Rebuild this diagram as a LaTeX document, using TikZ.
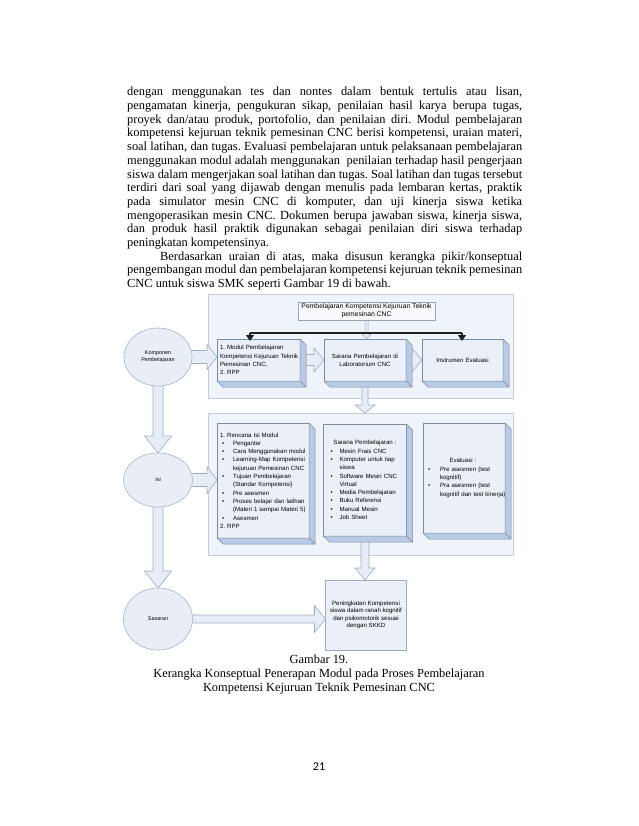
\documentclass[tikz,border=0pt]{standalone}
\usepackage{fontspec}
\setmainfont{Liberation Serif}
\newfontfamily\diagfont{Liberation Sans}
\newfontfamily\pagefont{Carlito}
\usetikzlibrary{shapes.geometric,arrows.meta,calc,backgrounds}
\frenchspacing

\definecolor{panelfill}{RGB}{239,243,250}
\definecolor{panelline}{RGB}{196,204,216}
\definecolor{boxfill}{RGB}{235,240,248}
\definecolor{boxline}{RGB}{125,140,165}
\definecolor{boxside}{RGB}{184,202,228}
\definecolor{arrowfill}{RGB}{231,237,247}
\definecolor{arrowline}{RGB}{158,172,194}
\definecolor{ovalfill}{RGB}{233,238,246}
\definecolor{ovalline}{RGB}{166,178,198}

\newcommand\boxfont{\diagfont\fontsize{6.1}{8.3}\selectfont}
\newcommand\itm[2]{\hspace*{#1}\makebox[#2][l]{\textbullet}}
\newcommand\jline[1]{\makebox[395pt][s]{#1}}
\newcommand\boxdepth[1]{%
  \filldraw[depthface] (#1.north east) -- ++(6,6) -- ([shift={(6,6)}]#1.south east) -- (#1.south east) -- cycle;
  \filldraw[depthface] (#1.south west) -- ++(6,6) -- ([shift={(6,6)}]#1.south east) -- (#1.south east) -- cycle;}

\tikzset{
  panel/.style={draw=panelline, fill=panelfill, line width=0.7pt, inner sep=0pt, outer sep=0pt, anchor=north west},
  cube/.style={draw=boxline, fill=boxfill, line width=0.5pt, inner xsep=0pt, inner ysep=1pt, outer sep=0pt, font=\boxfont, align=left},
  flatbox/.style={draw=arrowline, fill=boxfill, line width=0.5pt, inner sep=0pt, outer sep=0pt, font=\diagfont\fontsize{6.1}{7.6}\selectfont, align=center},
  depthface/.style={draw=boxline, fill=boxside, line width=0.5pt, line join=round},
  oval/.style={ellipse, draw=ovalline, fill=ovalfill, line width=0.6pt, inner sep=0pt, outer sep=0pt, font=\diagfont\fontsize{5.4}{6.9}\selectfont, align=center},
  titlebox/.style={draw=boxline!80, fill=boxfill!40, line width=0.5pt, inner sep=0pt, outer sep=0pt, font=\diagfont\fontsize{6.8}{8.4}\selectfont, align=center},
  blockarrow/.style={draw=arrowline, fill=arrowfill, line width=0.6pt, line join=miter},
  fat/.style n args={3}{to path={
    ($(\tikztotarget)!#3!(\tikztostart)$) coordinate (fb)
    ($(\tikztostart)!#1!90:(\tikztotarget)$) -- ($(fb)!#1!90:(\tikztotarget)$)
    -- ($(fb)!#2!90:(\tikztotarget)$) -- (\tikztotarget)
    -- ($(fb)!#2!-90:(\tikztotarget)$) -- ($(fb)!#1!-90:(\tikztotarget)$)
    -- ($(\tikztostart)!#1!-90:(\tikztotarget)$) -- cycle}},
  bracket/.style={line width=2.3pt, draw=black!88},
  bodytext/.style={inner sep=0pt, align=left, font=\fontsize{12.4}{13.7}\selectfont}
}

\begin{document}
\begin{tikzpicture}[x=1pt, y=-1pt]
\useasboundingbox (0,0) rectangle (638,826);

% text above the figure
\node[bodytext, anchor=north west] (para) at (127,87) {%
\jline{dengan menggunakan tes dan nontes dalam bentuk tertulis atau lisan,}\\
\jline{pengamatan kinerja, pengukuran sikap, penilaian hasil karya berupa tugas,}\\
\jline{proyek dan/atau produk, portofolio, dan penilaian diri. Modul pembelajaran}\\
\jline{kompetensi kejuruan teknik pemesinan CNC berisi kompetensi, uraian materi,}\\
\jline{soal latihan, dan tugas. Evaluasi pembelajaran untuk pelaksanaan pembelajaran}\\
\jline{menggunakan modul adalah menggunakan\ \ penilaian terhadap hasil pengerjaan}\\
\jline{siswa dalam mengerjakan soal latihan dan tugas. Soal latihan dan tugas tersebut}\\
\jline{terdiri dari soal yang dijawab dengan menulis pada lembaran kertas, praktik}\\
\jline{pada simulator mesin CNC di komputer, dan uji kinerja siswa ketika}\\
\jline{mengoperasikan mesin CNC. Dokumen berupa jawaban siswa, kinerja siswa,}\\
\jline{dan produk hasil praktik digunakan sebagai penilaian diri siswa terhadap}\\
peningkatan kompetensinya.\\
\hspace*{33pt}\makebox[362pt][s]{Berdasarkan uraian di atas, maka disusun kerangka pikir/konseptual}\\
\jline{pengembangan modul dan pembelajaran kompetensi kejuruan teknik pemesinan}\\
CNC untuk siswa SMK seperti Gambar 19 di bawah.};

% components
\node[oval, minimum width=68pt, minimum height=58pt] (e1) at (158,357) {Komponen\\Pembelajaran};
\node[oval, minimum width=69pt, minimum height=54pt] (e2) at (158,480) {Isi};
\node[oval, minimum width=69pt, minimum height=62pt] (e3) at (158,619) {Sasaran};

\node[titlebox, minimum width=137pt, minimum height=18pt] (tit) at (366.5,311) {Pembelajaran Kompetensi Kejuruan Teknik\\pemesinan CNC};

\node[cube, minimum width=83pt, minimum height=42pt, text width=83pt] (m1) at (258.5,360)
  {\hspace*{3pt}1. Modul Pembelajaran\\\hspace*{3pt}Kompetensi Kejuruan Teknik\\\hspace*{3pt}Pemesinan CNC,\\\hspace*{3pt}2. RPP};
\node[cube, minimum width=82pt, minimum height=42pt, text width=82pt, align=center] (m2) at (365,360)
  {Sarana Pembelajaran di\\Laboratorium CNC};
\node[cube, minimum width=81pt, minimum height=42pt, text width=81pt, align=center] (m3) at (462.5,360)
  {Instrumen Evaluasi};

\node[cube, minimum width=92pt, minimum height=115pt, text width=92pt] (b1) at (263,480.5) {%
  \hspace*{3pt}1. Rencana Isi Modul\\
  \itm{5pt}{11pt}Pengantar\\
  \itm{5pt}{11pt}Cara Menggunakan modul\\
  \itm{5pt}{11pt}Learning-Map Kompetensi\\
  \hspace*{16pt}kejuruan Pemesinan CNC\\
  \itm{5pt}{11pt}Tujuan Pembelajaran\\
  \hspace*{16pt}(Standar Kompetensi)\\
  \itm{5pt}{11pt}Pre asesmen\\
  \itm{5pt}{11pt}Proses belajar dan latihan\\
  \hspace*{16pt}(Materi 1 sampai Materi 5)\\
  \itm{5pt}{11pt}Asesmen\\
  \hspace*{3pt}2. RPP};
\node[cube, minimum width=83pt, minimum height=112pt, text width=83pt] (b2) at (365,480) {%
  \makebox[83pt][c]{Sarana Pembelajaran :}\\
  \itm{7pt}{9pt}Mesin Frais CNC\\
  \itm{7pt}{9pt}Komputer untuk tiap\\
  \hspace*{16pt}siswa\\
  \itm{7pt}{9pt}Software Mesin CNC\\
  \hspace*{16pt}Virtual\\
  \itm{7pt}{9pt}Media Pembelajaran\\
  \itm{7pt}{9pt}Buku Referensi\\
  \itm{7pt}{9pt}Manual Mesin\\
  \itm{7pt}{9pt}Job Sheet};
\node[cube, minimum width=82pt, minimum height=110pt, text width=82pt] (b3) at (464,478) {%
  \makebox[80pt][c]{Evaluasi :}\\
  \itm{5pt}{12pt}\mbox{Pre asesmen (test}\\
  \hspace*{17pt}kognitif)\\
  \itm{5pt}{12pt}\mbox{Pra asesmen (test}\\
  \hspace*{17pt}\mbox{kognitif dan test kinerja)}};

\node[flatbox, minimum width=81pt, minimum height=70pt] (fin) at (366,615)
  {Peningkatan Kompetensi\\siswa dalam ranah kognitif\\dan psikomotorik sesuai\\dengan SKKD};

\foreach \b in {m1,m2,m3,b1,b2,b3}{\boxdepth{\b}}

\begin{scope}[on background layer]
  \node[panel, minimum width=305pt, minimum height=104pt] (panA) at (208,294) {};
  \node[panel, minimum width=305pt, minimum height=142pt] (panB) at (208,413) {};
  \draw[blockarrow] (e1.center) to[fat={6.5pt}{12.5pt}{10pt}] (e1 -| m1.west);
  \draw[blockarrow] (m1.center) to[fat={5.5pt}{12pt}{10pt}] (m1 -| m2.west);
  \draw[blockarrow] (m2.center) to[fat={5.5pt}{12pt}{10pt}] (m2 -| m3.west);
  \draw[blockarrow] (e1.center) to[fat={5pt}{13.5pt}{17pt}] (e2.north);
  \draw[blockarrow] (e2.center) to[fat={5pt}{13.5pt}{17pt}] (e3.north);
  \draw[blockarrow] (e2.center) to[fat={6.5pt}{13.5pt}{10pt}] (e2 -| b1.west);
  \draw[blockarrow] (e3.center) to[fat={4pt}{13.5pt}{11pt}] (e3 -| fin.west);
  \draw[blockarrow] (m2.center) to[fat={3pt}{10pt}{8pt}] (m2 |- panB.north);
  \draw[blockarrow] (b2.center) to[fat={4pt}{10pt}{12pt}] (b2 |- fin.north);
\end{scope}

\draw[blockarrow, line width=0.5pt] (tit.center) to[fat={1.5pt}{4.5pt}{5pt}] (tit |- m2.north);
\node[titlebox, minimum width=137pt, minimum height=18pt] at (tit) {Pembelajaran Kompetensi Kejuruan Teknik\\pemesinan CNC};

\coordinate (brL) at (250,333);
\coordinate (brR) at (462,333);
\draw[bracket] (brL) -- (brR);
\draw[bracket, -{Triangle[width=8pt,length=6pt]}] (brL) -- ([yshift=-2pt]brL |- m1.north);
\draw[bracket, -{Triangle[width=8pt,length=6pt]}] (brR) -- ([yshift=-2pt]brR |- m3.north);

% caption and page number
\node[bodytext, align=center, anchor=north, font=\fontsize{12.4}{14}\selectfont] (cap) at (319,655)
  {Gambar 19.\\Kerangka Konseptual Penerapan Modul pada Proses Pembelajaran\\Kompetensi Kejuruan Teknik Pemesinan CNC};
\node[font=\pagefont\fontsize{12}{14}\selectfont, inner sep=0pt] (pnum) at (319,767) {21};
\end{tikzpicture}
\end{document}
